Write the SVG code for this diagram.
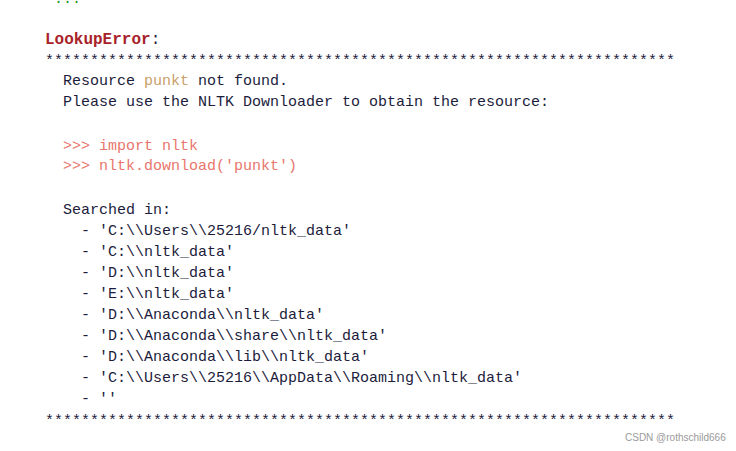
<svg xmlns="http://www.w3.org/2000/svg" width="736" height="451" viewBox="0 0 736 451">
<style>
text{font-family:"Liberation Mono","DejaVu Sans Mono",monospace;font-size:15px;fill:#1c1c3c;white-space:pre}
.err{fill:#a8222a;font-size:16px;font-weight:bold}
.res{fill:#c8a06a}
.py{fill:#e8766c}
.wm{font-family:"Liberation Sans",sans-serif;font-size:10px;fill:#9a9a9a}
</style>
<rect width="736" height="451" fill="#fff"/>
<g id="output">
<text x="54" y="3" style="fill:#2a9a2a">...</text>
<text x="45" y="44" class="err">LookupError<tspan style="fill:#1c1c3c;font-weight:normal">:</tspan></text>
<text x="45" y="65">**********************************************************************</text>
<text x="63" y="85">Resource <tspan class="res">punkt</tspan> not found.</text>
<text x="63" y="106">Please use the NLTK Downloader to obtain the resource:</text>
<text x="63" y="150" class="py">&gt;&gt;&gt; import nltk</text>
<text x="63" y="170" class="py">&gt;&gt;&gt; nltk.download('punkt')</text>
<text x="63" y="214">Searched in:</text>
<text x="81" y="235">- 'C:\\Users\\25216/nltk_data'</text>
<text x="81" y="256">- 'C:\\nltk_data'</text>
<text x="81" y="277">- 'D:\\nltk_data'</text>
<text x="81" y="298">- 'E:\\nltk_data'</text>
<text x="81" y="319">- 'D:\\Anaconda\\nltk_data'</text>
<text x="81" y="340">- 'D:\\Anaconda\\share\\nltk_data'</text>
<text x="81" y="361">- 'D:\\Anaconda\\lib\\nltk_data'</text>
<text x="81" y="382">- 'C:\\Users\\25216\\AppData\\Roaming\\nltk_data'</text>
<text x="81" y="403">- ''</text>
<text x="45" y="425">**********************************************************************</text>
</g>
<text x="625" y="441" class="wm">CSDN @rothschild666</text>
</svg>
